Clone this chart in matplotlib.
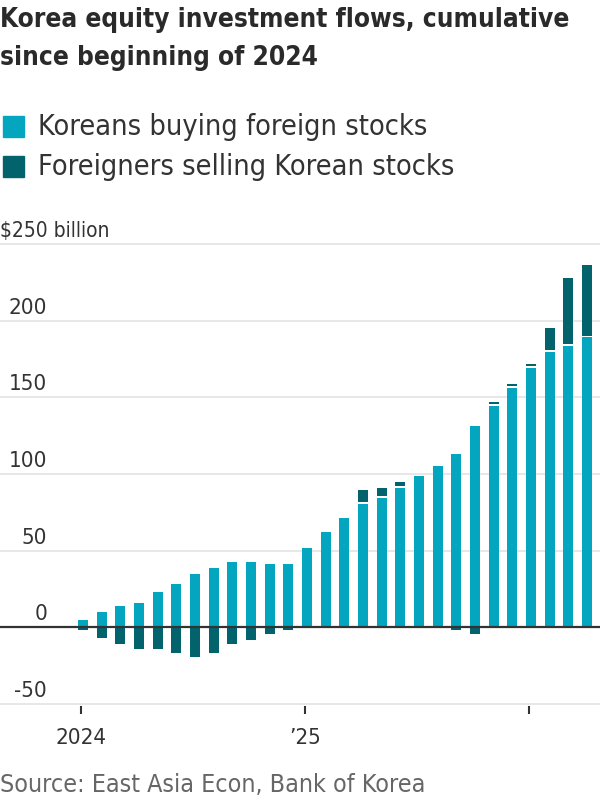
import matplotlib
matplotlib.use("Agg")
import matplotlib.pyplot as plt
from matplotlib.patches import Rectangle

plt.rcParams['font.family'] = ['DejaVu Sans']
plt.rcParams['font.stretch'] = 'condensed'

# --- Data (US$ billion, cumulative since Jan 2024), monthly Jan 2024 - Apr 2026 ---
months = list(range(28))
koreans_buying = [5, 10, 14, 16, 23, 28, 34.5, 38.5, 42.5, 42.5, 41, 41,
                  51.5, 62, 71, 80.5, 84.5, 91, 98.5, 105, 113, 131,
                  144.5, 156, 169, 179.5, 183.5, 189]
foreigners_selling = [-2, -7, -11, -14, -14, -16.5, -19, -16.5, -11, -8.5, -4.5, -2,
                      0, 0, 0, 9, 6.5, 3.5, 0, 0, -2, -4.5,
                      2.5, 2.8, 3, 15.5, 44.5, 47]
year_ticks = [0, 12, 24]
year_labels = ['2024', '\u201925', '']
y_ticks = [-50, 0, 50, 100, 150, 200, 250]
y_labels = ['-50', '0', '50', '100', '150', '200', '$250 billion']

light = '#03a5bf'
dark = '#02636d'
gap = 1.3  # white gap between stacked segments (data units)

fig = plt.figure(figsize=(6, 8), dpi=100)
ax = fig.add_axes([0, 0.118, 1, 0.579])
ax.set_xlim(-4.45, 27.7)
ax.set_ylim(-51, 251)

ax.bar(months, koreans_buying, width=0.54, color=light, zorder=2)
for m, k, f in zip(months, koreans_buying, foreigners_selling):
    if f > 0:
        ax.bar(m, f - gap, bottom=k + gap, width=0.54, color=dark, zorder=2)
    elif f < 0:
        ax.bar(m, f, width=0.54, color=dark, zorder=2)

ax.axhline(0, color='#333333', lw=1.6, zorder=3)

ax.set_yticks(y_ticks)
ax.grid(axis='y', color='#e3e3e3', lw=1.2, zorder=0)
ax.tick_params(axis='y', length=0, labelleft=False)
for v, lab in zip(y_ticks, y_labels):
    if v == 250:
        ax.annotate(lab, xy=(0, v), xycoords=ax.get_yaxis_transform(),
                    xytext=(0, 5), textcoords='offset points',
                    ha='left', va='baseline', fontsize=15, color='#333333')
    else:
        ax.annotate(lab, xy=(47 / 600, v), xycoords=ax.get_yaxis_transform(),
                    xytext=(0, 5), textcoords='offset points',
                    ha='right', va='baseline', fontsize=16, color='#333333')

ax.set_xticks([t - 0.1 for t in year_ticks])
ax.set_xticklabels(year_labels, fontsize=16, color='#333333')
ax.tick_params(axis='x', length=6, width=1.5, color='#333333', pad=10)
for s in ax.spines.values():
    s.set_visible(False)

# title
fig.text(0.0, 1 - 7 / 800, 'Korea equity investment flows, cumulative\nsince beginning of 2024',
         ha='left', va='top', fontsize=18.8, weight='bold', color='#2a2a2a', linespacing=1.62)

# legend
for i, (lab, c) in enumerate([('Koreans buying foreign stocks', light),
                              ('Foreigners selling Korean stocks', dark)]):
    yc = 127 + i * 40
    fig.add_artist(Rectangle((3 / 600, 1 - (yc + 10) / 800), 21 / 600, 21 / 800,
                             transform=fig.transFigure, color=c))
    fig.text(38 / 600, 1 - yc / 800, lab, ha='left', va='center', fontsize=20.7,
             color='#333333')

fig.text(0.0, 1 - 785 / 800, 'Source: East Asia Econ, Bank of Korea',
         ha='left', va='center', fontsize=17.9, color='#666666')

fig.savefig('out.png', dpi=100)
